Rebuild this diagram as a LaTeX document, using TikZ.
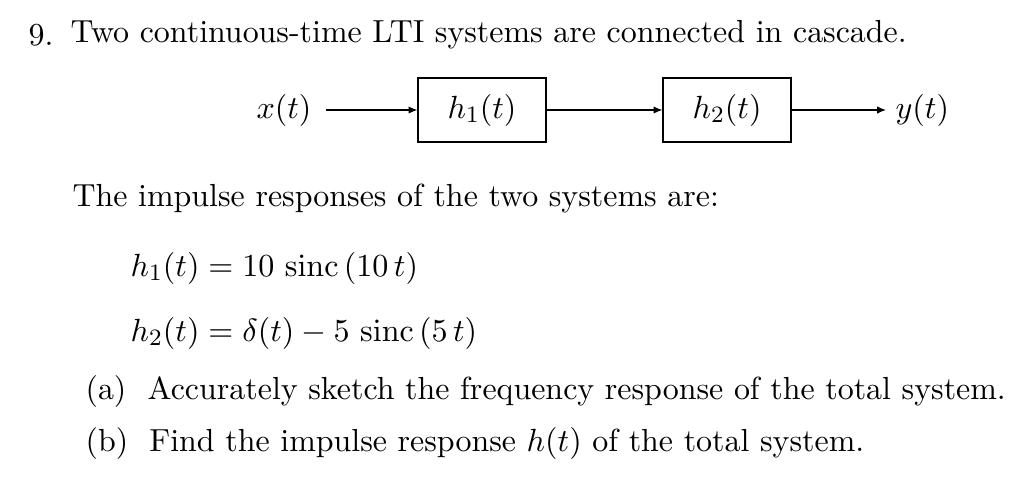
\documentclass[tikz,border=0pt]{standalone}
\usetikzlibrary{arrows.meta}
\begin{document}
\begin{tikzpicture}[x=0.012cm,y=-0.012cm,
  txt/.style={anchor=west,inner sep=0pt,font=\fontsize{10.9}{13}\selectfont},
  blk/.style={draw,minimum width=128*0.012cm,minimum height=64*0.012cm,inner sep=0pt,font=\fontsize{10.9}{13}\selectfont},
  sig/.style={-{Latex[length=3pt,width=2.5pt]},line width=0.4pt}]
\useasboundingbox (0,0) rectangle (1024,503);
\node[txt] (num) at (28,35) {9.};
\node[txt] (q) at (70,35) {Two continuous-time LTI systems are connected in cascade.};
\node[txt,anchor=east] (x) at (312,110) {$x(t)$};
\node[blk] (b1) at (482,110) {$h_1(t)$};
\node[blk] (b2) at (727,110) {$h_2(t)$};
\node[txt] (y) at (895,110) {$y(t)$};
\coordinate (xs) at (326,110);
\coordinate (ye) at (886,110);
\draw[sig] (xs) -- (b1.west);
\draw[sig] (b1.east) -- (b2.west);
\draw[sig] (b2.east) -- (ye);
\node[txt] (t1) at (72,199) {The impulse responses of the two systems are:};
\node[txt] (e1) at (130,268) {$h_1(t) = 10\ \mathrm{sinc}\,(10\,t)$};
\node[txt] (e2) at (130,333) {$h_2(t) = \delta(t) - 5\ \mathrm{sinc}\,(5\,t)$};
\node[txt] (a) at (85,392) {(a)\ \ Accurately sketch the frequency response of the total system.};
\node[txt] (b) at (85,443) {(b)\ \ Find the impulse response $h(t)$ of the total system.};
\end{tikzpicture}
\end{document}
